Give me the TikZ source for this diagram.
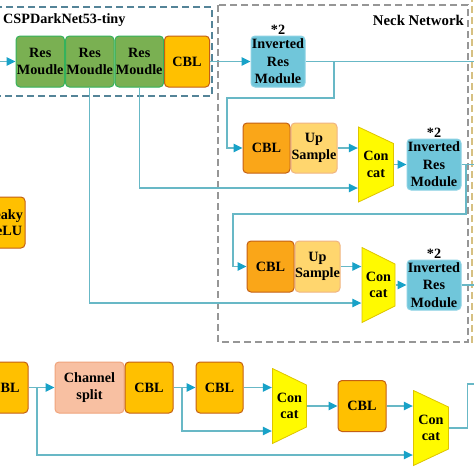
\documentclass[tikz,border=0pt]{standalone}
\usepackage{fontspec}
\setmainfont{Liberation Serif}
\usetikzlibrary{arrows.meta,positioning,calc}
\definecolor{LinkColor}{RGB}{104,184,198}
\definecolor{TipColor}{RGB}{24,162,200}
\definecolor{ResFill}{RGB}{122,176,82}
\definecolor{ResLine}{RGB}{52,178,92}
\definecolor{CblFill}{RGB}{255,192,0}
\definecolor{CblDark}{RGB}{250,166,24}
\definecolor{CblLine}{RGB}{196,96,20}
\definecolor{UpFill}{RGB}{255,214,110}
\definecolor{UpLine}{RGB}{240,180,130}
\definecolor{IrmFill}{RGB}{112,198,218}
\definecolor{IrmLine}{RGB}{140,210,228}
\definecolor{SplitFill}{RGB}{248,192,162}
\definecolor{SplitLine}{RGB}{240,164,124}
\definecolor{CatFill}{RGB}{255,250,0}
\definecolor{CatLine}{RGB}{222,196,0}
\definecolor{CspBorder}{RGB}{84,132,152}
\definecolor{NeckBorder}{RGB}{150,150,150}
\definecolor{TanBorder}{RGB}{214,192,130}

\begin{document}
\begin{tikzpicture}[x=1pt, y=-1pt, >={Triangle[length=9pt,width=8.5pt,color=TipColor]},
    font=\bfseries\fontsize{14.2}{16.5}\selectfont,
    block/.style={draw, rounded corners=4pt, line width=1pt, minimum height=51pt, inner sep=0pt, align=center},
    resbox/.style={block, fill=ResFill, draw=ResLine, minimum width=48.5pt},
    cblbox/.style={block, fill=CblFill, draw=CblLine, minimum width=47pt},
    cbldark/.style={block, fill=CblDark, draw=CblLine, minimum width=47pt},
    upbox/.style={block, fill=UpFill, draw=UpLine, minimum width=46pt},
    irmbox/.style={block, fill=IrmFill, draw=IrmLine, minimum width=54pt, font=\bfseries\fontsize{14.2}{17.5}\selectfont,
      label={[inner sep=1pt]above:*2}},
    splitbox/.style={block, fill=SplitFill, draw=SplitLine, minimum width=69pt},
    catbox/.style={minimum width=36pt, minimum height=76pt, inner sep=0pt, align=center,
      path picture={
        \filldraw[fill=CatFill, draw=CatLine, line width=0.8pt]
          ([shift={(0.5pt,-0.5pt)}]path picture bounding box.north west)
          -- ([shift={(-0.5pt,-17pt)}]path picture bounding box.north east)
          -- ([shift={(-0.5pt,17pt)}]path picture bounding box.south east)
          -- ([shift={(0.5pt,0.5pt)}]path picture bounding box.south west) -- cycle;}},
    link/.style={draw=LinkColor, line width=1.1pt},
    dashbox/.style={line width=1.2pt, dash pattern=on 7pt off 4pt}]
  \clip (0,0) rectangle (474,474);
  \fill[white] (0,0) rectangle (474,474);

  % frames
  \draw[dashbox, CspBorder] (-5,7) rectangle (212,96);
  \draw[dashbox, NeckBorder] (218,5) rectangle (468,342);
  \draw[dashbox, TanBorder] (472,-5) rectangle (500,343);
  \node[anchor=west, inner sep=0pt] (csptitle) at (3,20) {CSPDarkNet53-tiny};
  \node[anchor=east, inner sep=0pt, font=\bfseries\fontsize{14.8}{16}\selectfont] (necktitle) at (464,20) {Neck Network};

  % backbone
  \node[resbox] (res1) at (40.25,61.5) {Res\\Moudle};
  \node[resbox, right=0pt of res1] (res2) {Res\\Moudle};
  \node[resbox, right=0pt of res2] (res3) {Res\\Moudle};
  \node[cblbox, minimum width=45pt, right=0pt of res3] (cbl1) {CBL};
  \coordinate (in1) at (-5,61.5);

  % neck
  \node[irmbox] (irm1) at (278,61.5) {Inverted\\Res\\Module};
  \node[cbldark, minimum height=50pt] (cbl2) at (266.5,148) {CBL};
  \node[upbox, minimum height=50pt, right=0pt of cbl2] (up1) {Up\\Sample};
  \node[catbox] (cat1) at (376,164.5) {Con\\cat};
  \node[irmbox] (irm2) at (434,164.5) {Inverted\\Res\\Module};
  \node[cbldark] (cbl3) at (270.5,266.5) {CBL};
  \node[upbox, minimum width=45pt, right=0pt of cbl3] (up2) {Up\\Sample};
  \node[catbox, minimum width=34pt] (cat2) at (378.5,285) {Con\\cat};
  \node[irmbox, minimum height=50pt] (irm3) at (434,285) {Inverted\\Res\\Module};
  \coordinate (br1) at (334,61.5);
  \coordinate (br2) at (466,164.5);
  \coordinate (out1) at (480,61.5);
  \coordinate (out2) at (480,164.5);
  \coordinate (out3) at (480,285);

  % legend
  \node[cblbox, minimum width=42pt] (leaky) at (4,222.5) {Leaky\\ReLU};

  % head
  \node[cblbox, minimum width=46pt] (cbl4) at (5,387.5) {CBL};
  \node[splitbox] (split) at (89.5,387.5) {Channel\\split};
  \node[cblbox, minimum width=48pt, right=0pt of split] (cbl5) {CBL};
  \node[cblbox] (cbl6) at (219.5,387.5) {CBL};
  \node[catbox, minimum width=35pt] (cat3) at (289.5,406) {Con\\cat};
  \node[cblbox, minimum width=48pt] (cbl7) at (362,406) {CBL};
  \node[catbox] (cat4) at (431,428) {Con\\cat};
  \coordinate (br3) at (182,387.5);
  \coordinate (br4) at (37,387.5);
  \coordinate (out4) at (480,384);

  % connectors
  \draw[link,->] (in1) -- (res1.west);
  \draw[link,->] (cbl1.east) -- (irm1.west);
  \draw[link] (irm1.east) -- (out1);
  \draw[link,->] (br1) |- (227,98) |- (cbl2.west);
  \draw[link,->] (up1.east) -- (up1.east -| cat1.west);
  \draw[link,->] (res3.south) |- ([yshift=-23.5pt]cat1.west);
  \draw[link,->] (cat1.east) -- (irm2.west);
  \draw[link] (irm2.east) -- (out2);
  \draw[link,->] (br2) |- (233,214) |- (cbl3.west);
  \draw[link,->] (up2.east) -- (up2.east -| cat2.west);
  \draw[link,->] (res2.south) |- ([yshift=-18pt]cat2.west);
  \draw[link,->] (cat2.east) -- (irm3.west);
  \draw[link] (irm3.east) -- (out3);

  \draw[link,->] (cbl4.east) -- (split.west);
  \draw[link,->] (cbl5.east) -- (cbl6.west);
  \draw[link,->] (cbl6.east) -- (cbl6.east -| cat3.west);
  \draw[link,->] (br3) |- ([yshift=-25pt]cat3.west);
  \draw[link,->] (br4) |- ([yshift=-27pt]cat4.west);
  \draw[link,->] (cat3.east) -- (cbl7.west);
  \draw[link,->] (cbl7.east) -- (cbl7.east -| cat4.west);
  \draw[link] (cat4.east) -- ++(18,0) |- (out4);
\end{tikzpicture}
\end{document}
